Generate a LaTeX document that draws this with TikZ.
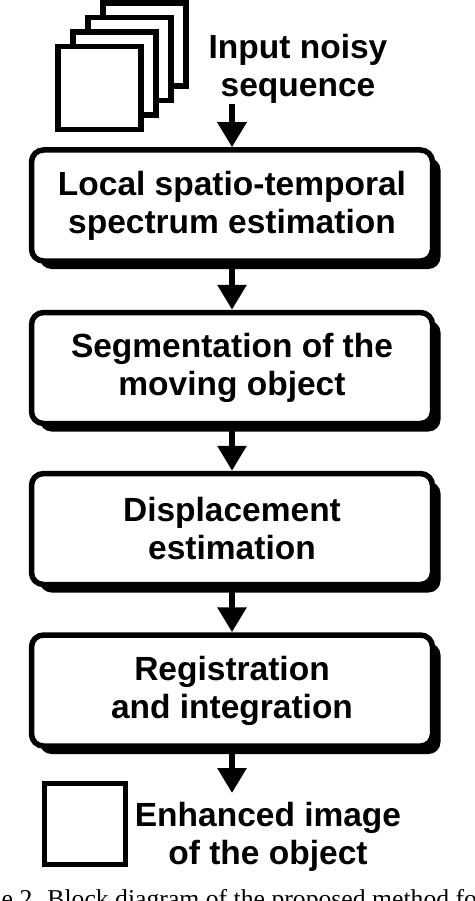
\documentclass[tikz,border=0pt]{standalone}
\usepackage{fontspec}
\setmainfont{Liberation Sans}
\newfontfamily\capfont{Liberation Serif}
\usetikzlibrary{arrows.meta,shadows}
\begin{document}
\begin{tikzpicture}[x=1pt,y=-1pt,
  lbl/.style={font=\fontsize{33.5}{38}\selectfont\bfseries, align=center, inner sep=0pt},
  stepbox/.style={draw, line width=5.5pt, fill=white, rounded corners=12pt,
    minimum width=401pt, minimum height=111pt, inner sep=0pt,
    font=\fontsize{33.5}{38}\selectfont\bfseries, align=center,
    drop shadow={shadow xshift=8pt, shadow yshift=-8pt, fill=black, opacity=1}},
  frame/.style={draw, line width=5.5pt, fill=white, minimum size=83pt, inner sep=0pt},
  flow/.style={line width=6pt, -{Triangle[width=28pt,length=25pt]}}
]
\useasboundingbox (0,0) rectangle (474,901);
% input sequence stack
\node[frame] (f4) at (144.5,44.5) {};
\node[frame] (f3) at (129.5,59) {};
\node[frame] (f2) at (114.5,73.5) {};
\node[frame] (f1) at (99.5,88) {};
\node[lbl] (intext) at (298,69) {Input noisy\\sequence};
\coordinate (inarr) at (232,104);
% process boxes
\node[stepbox] (b1) at (232,205.5) {Local spatio-temporal\\spectrum estimation};
\node[stepbox] (b2) at (232,368) {Segmentation of the\\moving object};
\node[stepbox] (b3) at (232,529) {Displacement\\estimation};
\node[stepbox] (b4) at (232,690.5) {Registration\\and integration};
% output
\node[frame, minimum size=81pt] (outimg) at (85,824) {};
\node[lbl] (outtext) at (268,837) {Enhanced image\\of the object};
\coordinate (outarr) at (232,793);
% arrows
\draw[flow] (inarr) -- (b1.north);
\draw[flow] (b1.south) -- (b2.north);
\draw[flow] (b2.south) -- (b3.north);
\draw[flow] (b3.south) -- (b4.north);
\draw[flow] (b4.south) -- (outarr);
% clipped caption
\begin{scope}
\clip (0,0) rectangle (474,901);
\node[anchor=base west, inner sep=0pt, font=\capfont\fontsize{25.7}{30}\selectfont] (cap) at (1.5,907) {e 2. Block diagram of the proposed method fo};
\end{scope}
\end{tikzpicture}
\end{document}
